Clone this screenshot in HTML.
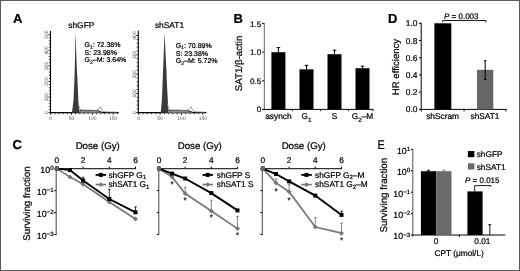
<!DOCTYPE html>
<html><head><meta charset="utf-8"><style>
html,body{margin:0;padding:0;background:#fff;width:520px;height:271px;overflow:hidden}
svg{display:block;font-family:"Liberation Sans", Arial, Helvetica, sans-serif}
text{stroke:#000;stroke-width:0.22px;text-rendering:geometricPrecision}
</style></head><body>
<svg width="520" height="271" viewBox="0 0 520 271">
<rect x="0.5" y="0.5" width="519" height="270" fill="#fff" stroke="#5a5a5a" stroke-width="1"/>
<text x="13.0" y="22.8" font-size="13" text-anchor="start" font-weight="bold" fill="#000" >A</text>
<text x="233.5" y="23.1" font-size="13" text-anchor="start" font-weight="bold" fill="#000" >B</text>
<text x="388.1" y="23.1" font-size="13" text-anchor="start" font-weight="bold" fill="#000" >D</text>
<text x="12.4" y="149.4" font-size="13" text-anchor="start" font-weight="bold" fill="#000" >C</text>
<text x="0" y="0" font-size="12.6" transform="translate(377.6,149.3) scale(0.86,1)">E</text>
<line x1="50.5" y1="31.0" x2="50.5" y2="113.3" stroke="#000" stroke-width="1.1" />
<line x1="50.0" y1="112.7" x2="118.7" y2="112.7" stroke="#000" stroke-width="1.3" />
<line x1="48.3" y1="112.7" x2="50.5" y2="112.7" stroke="#000" stroke-width="0.8" />
<text x="0" y="0" font-size="5" text-anchor="middle" fill="#555" style="stroke:none" transform="translate(47.7,112.7) rotate(-90)">0</text>
<line x1="48.9" y1="109.58" x2="50.5" y2="109.58" stroke="#000" stroke-width="0.8" />
<line x1="48.9" y1="106.46000000000001" x2="50.5" y2="106.46000000000001" stroke="#000" stroke-width="0.8" />
<line x1="48.9" y1="103.34" x2="50.5" y2="103.34" stroke="#000" stroke-width="0.8" />
<line x1="48.9" y1="100.22" x2="50.5" y2="100.22" stroke="#000" stroke-width="0.8" />
<line x1="48.3" y1="97.10000000000001" x2="50.5" y2="97.10000000000001" stroke="#000" stroke-width="0.8" />
<text x="0" y="0" font-size="5" text-anchor="middle" fill="#555" style="stroke:none" transform="translate(47.7,97.10000000000001) rotate(-90)">100</text>
<line x1="48.9" y1="93.98" x2="50.5" y2="93.98" stroke="#000" stroke-width="0.8" />
<line x1="48.9" y1="90.86" x2="50.5" y2="90.86" stroke="#000" stroke-width="0.8" />
<line x1="48.9" y1="87.74000000000001" x2="50.5" y2="87.74000000000001" stroke="#000" stroke-width="0.8" />
<line x1="48.9" y1="84.62" x2="50.5" y2="84.62" stroke="#000" stroke-width="0.8" />
<line x1="48.3" y1="81.5" x2="50.5" y2="81.5" stroke="#000" stroke-width="0.8" />
<text x="0" y="0" font-size="5" text-anchor="middle" fill="#555" style="stroke:none" transform="translate(47.7,81.5) rotate(-90)">200</text>
<line x1="48.9" y1="78.38" x2="50.5" y2="78.38" stroke="#000" stroke-width="0.8" />
<line x1="48.9" y1="75.26" x2="50.5" y2="75.26" stroke="#000" stroke-width="0.8" />
<line x1="48.9" y1="72.14" x2="50.5" y2="72.14" stroke="#000" stroke-width="0.8" />
<line x1="48.9" y1="69.02000000000001" x2="50.5" y2="69.02000000000001" stroke="#000" stroke-width="0.8" />
<line x1="48.3" y1="65.9" x2="50.5" y2="65.9" stroke="#000" stroke-width="0.8" />
<text x="0" y="0" font-size="5" text-anchor="middle" fill="#555" style="stroke:none" transform="translate(47.7,65.9) rotate(-90)">300</text>
<line x1="48.9" y1="62.78" x2="50.5" y2="62.78" stroke="#000" stroke-width="0.8" />
<line x1="48.9" y1="59.660000000000004" x2="50.5" y2="59.660000000000004" stroke="#000" stroke-width="0.8" />
<line x1="48.9" y1="56.540000000000006" x2="50.5" y2="56.540000000000006" stroke="#000" stroke-width="0.8" />
<line x1="48.9" y1="53.42" x2="50.5" y2="53.42" stroke="#000" stroke-width="0.8" />
<line x1="48.3" y1="50.300000000000004" x2="50.5" y2="50.300000000000004" stroke="#000" stroke-width="0.8" />
<text x="0" y="0" font-size="5" text-anchor="middle" fill="#555" style="stroke:none" transform="translate(47.7,50.300000000000004) rotate(-90)">400</text>
<line x1="48.9" y1="47.18000000000001" x2="50.5" y2="47.18000000000001" stroke="#000" stroke-width="0.8" />
<line x1="48.9" y1="44.06" x2="50.5" y2="44.06" stroke="#000" stroke-width="0.8" />
<line x1="48.9" y1="40.94" x2="50.5" y2="40.94" stroke="#000" stroke-width="0.8" />
<line x1="48.9" y1="37.82000000000001" x2="50.5" y2="37.82000000000001" stroke="#000" stroke-width="0.8" />
<line x1="48.3" y1="34.7" x2="50.5" y2="34.7" stroke="#000" stroke-width="0.8" />
<text x="0" y="0" font-size="5" text-anchor="middle" fill="#555" style="stroke:none" transform="translate(47.7,34.7) rotate(-90)">500</text>
<line x1="50.7" y1="112.7" x2="50.7" y2="114.9" stroke="#000" stroke-width="0.8" />
<text x="50.7" y="119.7" font-size="5" text-anchor="middle" font-weight="normal" fill="#555" style="stroke:none">0</text>
<line x1="54.86" y1="112.7" x2="54.86" y2="114.2" stroke="#000" stroke-width="0.8" />
<line x1="59.02" y1="112.7" x2="59.02" y2="114.2" stroke="#000" stroke-width="0.8" />
<line x1="63.18" y1="112.7" x2="63.18" y2="114.2" stroke="#000" stroke-width="0.8" />
<line x1="67.34" y1="112.7" x2="67.34" y2="114.2" stroke="#000" stroke-width="0.8" />
<line x1="71.5" y1="112.7" x2="71.5" y2="114.9" stroke="#000" stroke-width="0.8" />
<text x="71.5" y="119.7" font-size="5" text-anchor="middle" font-weight="normal" fill="#555" style="stroke:none">50</text>
<line x1="75.66" y1="112.7" x2="75.66" y2="114.2" stroke="#000" stroke-width="0.8" />
<line x1="79.82" y1="112.7" x2="79.82" y2="114.2" stroke="#000" stroke-width="0.8" />
<line x1="83.98" y1="112.7" x2="83.98" y2="114.2" stroke="#000" stroke-width="0.8" />
<line x1="88.14" y1="112.7" x2="88.14" y2="114.2" stroke="#000" stroke-width="0.8" />
<line x1="92.30000000000001" y1="112.7" x2="92.30000000000001" y2="114.9" stroke="#000" stroke-width="0.8" />
<text x="92.30000000000001" y="119.7" font-size="5" text-anchor="middle" font-weight="normal" fill="#555" style="stroke:none">100</text>
<line x1="96.46000000000001" y1="112.7" x2="96.46000000000001" y2="114.2" stroke="#000" stroke-width="0.8" />
<line x1="100.62" y1="112.7" x2="100.62" y2="114.2" stroke="#000" stroke-width="0.8" />
<line x1="104.78" y1="112.7" x2="104.78" y2="114.2" stroke="#000" stroke-width="0.8" />
<line x1="108.94" y1="112.7" x2="108.94" y2="114.2" stroke="#000" stroke-width="0.8" />
<line x1="113.1" y1="112.7" x2="113.1" y2="114.9" stroke="#000" stroke-width="0.8" />
<text x="113.1" y="119.7" font-size="5" text-anchor="middle" font-weight="normal" fill="#555" style="stroke:none">150</text>
<line x1="117.26" y1="112.7" x2="117.26" y2="114.2" stroke="#000" stroke-width="0.8" />
<polygon points="71.80,112.70 72.30,110.00 73.50,100.00 74.40,80.00 74.80,68.00 75.15,50.00 75.30,40.00 75.50,32.40 75.80,40.00 76.10,50.00 76.80,68.00 77.50,80.00 78.30,100.00 79.10,110.00 79.80,112.70" fill="#3a3a3a"/>
<polygon points="79.0,112.7 79.7,110.10000000000001 97.0,110.3 99.5,111.2 102.5,112.7 " fill="#8a8a8a"/>
<polyline points="79.3,110.3 97.0,110.5 101.5,111.9" fill="none" stroke="#222" stroke-width="0.9"/>
<polyline points="78.3,103.7 80.0,109.2 81.5,110.10000000000001 96.7,110.4 100.5,106.4 102.5,111.3 106.5,111.9 116.7,112.10000000000001" fill="none" stroke="#8a8a8a" stroke-width="0.8"/>
<text x="81.3" y="27.6" font-size="8.4" text-anchor="middle" font-weight="normal" fill="#000" >shGFP</text>
<text x="84.6" y="47.0" font-size="7" text-anchor="start" font-weight="normal" fill="#000" >G<tspan font-size="5" dy="1.5">1</tspan><tspan dy="-1.5">: 72.38%</tspan></text>
<text x="84.6" y="54.7" font-size="7" text-anchor="start" font-weight="normal" fill="#000" >S: 23.98%</text>
<text x="84.6" y="62.4" font-size="7" text-anchor="start" font-weight="normal" fill="#000" >G<tspan font-size="5" dy="1.5">2</tspan><tspan dy="-1.5">–M: 3.64%</tspan></text>
<line x1="138.3" y1="30.7" x2="138.3" y2="113.3" stroke="#000" stroke-width="1.1" />
<line x1="137.8" y1="112.7" x2="206.5" y2="112.7" stroke="#000" stroke-width="1.3" />
<line x1="136.10000000000002" y1="112.7" x2="138.3" y2="112.7" stroke="#000" stroke-width="0.8" />
<text x="0" y="0" font-size="5" text-anchor="middle" fill="#555" style="stroke:none" transform="translate(135.5,112.7) rotate(-90)">0</text>
<line x1="136.70000000000002" y1="108.84" x2="138.3" y2="108.84" stroke="#000" stroke-width="0.8" />
<line x1="136.70000000000002" y1="104.98" x2="138.3" y2="104.98" stroke="#000" stroke-width="0.8" />
<line x1="136.70000000000002" y1="101.12" x2="138.3" y2="101.12" stroke="#000" stroke-width="0.8" />
<line x1="136.70000000000002" y1="97.26" x2="138.3" y2="97.26" stroke="#000" stroke-width="0.8" />
<line x1="136.10000000000002" y1="93.4" x2="138.3" y2="93.4" stroke="#000" stroke-width="0.8" />
<text x="0" y="0" font-size="5" text-anchor="middle" fill="#555" style="stroke:none" transform="translate(135.5,93.4) rotate(-90)">100</text>
<line x1="136.70000000000002" y1="89.54" x2="138.3" y2="89.54" stroke="#000" stroke-width="0.8" />
<line x1="136.70000000000002" y1="85.68" x2="138.3" y2="85.68" stroke="#000" stroke-width="0.8" />
<line x1="136.70000000000002" y1="81.82" x2="138.3" y2="81.82" stroke="#000" stroke-width="0.8" />
<line x1="136.70000000000002" y1="77.96000000000001" x2="138.3" y2="77.96000000000001" stroke="#000" stroke-width="0.8" />
<line x1="136.10000000000002" y1="74.1" x2="138.3" y2="74.1" stroke="#000" stroke-width="0.8" />
<text x="0" y="0" font-size="5" text-anchor="middle" fill="#555" style="stroke:none" transform="translate(135.5,74.1) rotate(-90)">200</text>
<line x1="136.70000000000002" y1="70.24000000000001" x2="138.3" y2="70.24000000000001" stroke="#000" stroke-width="0.8" />
<line x1="136.70000000000002" y1="66.38" x2="138.3" y2="66.38" stroke="#000" stroke-width="0.8" />
<line x1="136.70000000000002" y1="62.52" x2="138.3" y2="62.52" stroke="#000" stroke-width="0.8" />
<line x1="136.70000000000002" y1="58.660000000000004" x2="138.3" y2="58.660000000000004" stroke="#000" stroke-width="0.8" />
<line x1="136.10000000000002" y1="54.800000000000004" x2="138.3" y2="54.800000000000004" stroke="#000" stroke-width="0.8" />
<text x="0" y="0" font-size="5" text-anchor="middle" fill="#555" style="stroke:none" transform="translate(135.5,54.800000000000004) rotate(-90)">300</text>
<line x1="136.70000000000002" y1="50.94" x2="138.3" y2="50.94" stroke="#000" stroke-width="0.8" />
<line x1="136.70000000000002" y1="47.08" x2="138.3" y2="47.08" stroke="#000" stroke-width="0.8" />
<line x1="136.70000000000002" y1="43.22" x2="138.3" y2="43.22" stroke="#000" stroke-width="0.8" />
<line x1="136.70000000000002" y1="39.36" x2="138.3" y2="39.36" stroke="#000" stroke-width="0.8" />
<line x1="136.10000000000002" y1="35.5" x2="138.3" y2="35.5" stroke="#000" stroke-width="0.8" />
<text x="0" y="0" font-size="5" text-anchor="middle" fill="#555" style="stroke:none" transform="translate(135.5,35.5) rotate(-90)">400</text>
<line x1="138.7" y1="112.7" x2="138.7" y2="114.9" stroke="#000" stroke-width="0.8" />
<text x="138.7" y="119.7" font-size="5" text-anchor="middle" font-weight="normal" fill="#555" style="stroke:none">0</text>
<line x1="142.98" y1="112.7" x2="142.98" y2="114.2" stroke="#000" stroke-width="0.8" />
<line x1="147.26" y1="112.7" x2="147.26" y2="114.2" stroke="#000" stroke-width="0.8" />
<line x1="151.54" y1="112.7" x2="151.54" y2="114.2" stroke="#000" stroke-width="0.8" />
<line x1="155.82" y1="112.7" x2="155.82" y2="114.2" stroke="#000" stroke-width="0.8" />
<line x1="160.1" y1="112.7" x2="160.1" y2="114.9" stroke="#000" stroke-width="0.8" />
<text x="160.1" y="119.7" font-size="5" text-anchor="middle" font-weight="normal" fill="#555" style="stroke:none">50</text>
<line x1="164.38" y1="112.7" x2="164.38" y2="114.2" stroke="#000" stroke-width="0.8" />
<line x1="168.66" y1="112.7" x2="168.66" y2="114.2" stroke="#000" stroke-width="0.8" />
<line x1="172.94" y1="112.7" x2="172.94" y2="114.2" stroke="#000" stroke-width="0.8" />
<line x1="177.21999999999997" y1="112.7" x2="177.21999999999997" y2="114.2" stroke="#000" stroke-width="0.8" />
<line x1="181.5" y1="112.7" x2="181.5" y2="114.9" stroke="#000" stroke-width="0.8" />
<text x="181.5" y="119.7" font-size="5" text-anchor="middle" font-weight="normal" fill="#555" style="stroke:none">100</text>
<line x1="185.77999999999997" y1="112.7" x2="185.77999999999997" y2="114.2" stroke="#000" stroke-width="0.8" />
<line x1="190.06" y1="112.7" x2="190.06" y2="114.2" stroke="#000" stroke-width="0.8" />
<line x1="194.33999999999997" y1="112.7" x2="194.33999999999997" y2="114.2" stroke="#000" stroke-width="0.8" />
<line x1="198.62" y1="112.7" x2="198.62" y2="114.2" stroke="#000" stroke-width="0.8" />
<line x1="202.89999999999998" y1="112.7" x2="202.89999999999998" y2="114.9" stroke="#000" stroke-width="0.8" />
<text x="202.89999999999998" y="119.7" font-size="5" text-anchor="middle" font-weight="normal" fill="#555" style="stroke:none">150</text>
<polygon points="160.60,112.70 161.00,110.00 161.90,100.00 162.50,85.00 163.10,70.00 163.70,55.00 164.15,42.00 164.50,32.00 165.00,42.00 165.60,55.00 166.40,70.00 167.00,85.00 167.80,100.00 168.30,110.00 168.70,112.70" fill="#3a3a3a"/>
<polygon points="168.0,112.7 168.7,110.10000000000001 187.5,110.3 190.0,111.2 193.0,112.7 " fill="#8a8a8a"/>
<polyline points="168.3,110.3 187.5,110.5 192.0,111.9" fill="none" stroke="#222" stroke-width="0.9"/>
<polyline points="167.3,103.7 169.0,109.2 170.5,110.10000000000001 187.2,110.4 191.0,106.5 193.0,111.3 197.0,111.9 204.5,112.10000000000001" fill="none" stroke="#8a8a8a" stroke-width="0.8"/>
<text x="169.5" y="27.6" font-size="8.4" text-anchor="middle" font-weight="normal" fill="#000" >shSAT1</text>
<text x="175.8" y="47.9" font-size="7" text-anchor="start" font-weight="normal" fill="#000" >G<tspan font-size="5" dy="1.5">1</tspan><tspan dy="-1.5">: 70.89%</tspan></text>
<text x="175.8" y="55.6" font-size="7" text-anchor="start" font-weight="normal" fill="#000" >S: 23.38%</text>
<text x="175.8" y="63.3" font-size="7" text-anchor="start" font-weight="normal" fill="#000" >G<tspan font-size="5" dy="1.5">2</tspan><tspan dy="-1.5">–M: 5.72%</tspan></text>
<line x1="264.3" y1="23.3" x2="264.3" y2="110.60000000000001" stroke="#666" stroke-width="1" />
<line x1="263.8" y1="109.4" x2="373.3" y2="109.4" stroke="#000" stroke-width="1" />
<line x1="262.1" y1="109.4" x2="264.3" y2="109.4" stroke="#000" stroke-width="1" />
<text x="261.1" y="112.30000000000001" font-size="8" text-anchor="end" font-weight="normal" fill="#000" >0</text>
<line x1="262.1" y1="80.80000000000001" x2="264.3" y2="80.80000000000001" stroke="#000" stroke-width="1" />
<text x="261.1" y="83.70000000000002" font-size="8" text-anchor="end" font-weight="normal" fill="#000" >0.5</text>
<line x1="262.1" y1="52.2" x2="264.3" y2="52.2" stroke="#000" stroke-width="1" />
<text x="261.1" y="55.1" font-size="8" text-anchor="end" font-weight="normal" fill="#000" >1.0</text>
<line x1="262.1" y1="23.599999999999994" x2="264.3" y2="23.599999999999994" stroke="#000" stroke-width="1" />
<text x="261.1" y="26.499999999999993" font-size="8" text-anchor="end" font-weight="normal" fill="#000" >1.5</text>
<line x1="292.5" y1="109.4" x2="292.5" y2="111.2" stroke="#000" stroke-width="0.9" />
<line x1="320.5" y1="109.4" x2="320.5" y2="111.2" stroke="#000" stroke-width="0.9" />
<line x1="348.5" y1="109.4" x2="348.5" y2="111.2" stroke="#000" stroke-width="0.9" />
<line x1="373.0" y1="109.4" x2="373.0" y2="111.2" stroke="#000" stroke-width="0.9" />
<rect x="271.4" y="52.2" width="14" height="57.2" fill="#000"/>
<line x1="278.4" y1="47.624" x2="278.4" y2="52.2" stroke="#000" stroke-width="1" />
<line x1="276.59999999999997" y1="47.624" x2="280.2" y2="47.624" stroke="#000" stroke-width="1" />
<text x="278.4" y="119.4" font-size="8.3" text-anchor="middle" font-weight="normal" fill="#000" >asynch</text>
<rect x="299.5" y="69.36000000000001" width="14" height="40.03999999999999" fill="#000"/>
<line x1="306.5" y1="65.35600000000001" x2="306.5" y2="69.36000000000001" stroke="#000" stroke-width="1" />
<line x1="304.7" y1="65.35600000000001" x2="308.3" y2="65.35600000000001" stroke="#000" stroke-width="1" />
<text x="306.5" y="119.4" font-size="8.3" text-anchor="middle" font-weight="normal" fill="#000" >G<tspan font-size="6.2" dy="2.4">1</tspan></text>
<rect x="327.5" y="54.202000000000005" width="14" height="55.198" fill="#000"/>
<line x1="334.5" y1="50.19800000000001" x2="334.5" y2="54.202000000000005" stroke="#000" stroke-width="1" />
<line x1="332.7" y1="50.19800000000001" x2="336.3" y2="50.19800000000001" stroke="#000" stroke-width="1" />
<text x="334.5" y="119.4" font-size="8.3" text-anchor="middle" font-weight="normal" fill="#000" >S</text>
<rect x="355.5" y="68.21600000000001" width="14" height="41.184" fill="#000"/>
<line x1="362.5" y1="66.21400000000001" x2="362.5" y2="68.21600000000001" stroke="#000" stroke-width="1" />
<line x1="360.7" y1="66.21400000000001" x2="364.3" y2="66.21400000000001" stroke="#000" stroke-width="1" />
<text x="362.5" y="119.4" font-size="8.3" text-anchor="middle" font-weight="normal" fill="#000" >G<tspan font-size="6.2" dy="2.4">2</tspan><tspan dy="-2.4">–M</tspan></text>
<text x="0" y="0" font-size="9.7" text-anchor="middle" transform="translate(242.3,63.4) rotate(-90)">SAT1/β-actin</text>
<line x1="421.2" y1="22.8" x2="421.2" y2="111.7" stroke="#000" stroke-width="1" />
<line x1="420.7" y1="109.4" x2="506.5" y2="109.4" stroke="#000" stroke-width="1" />
<line x1="506.0" y1="109.4" x2="506.0" y2="111.4" stroke="#000" stroke-width="1" />
<line x1="419.0" y1="109.4" x2="421.2" y2="109.4" stroke="#000" stroke-width="1" />
<text x="417.4" y="112.4" font-size="8.4" text-anchor="end" font-weight="normal" fill="#000" >0.0</text>
<line x1="419.0" y1="92.18" x2="421.2" y2="92.18" stroke="#000" stroke-width="1" />
<text x="417.4" y="95.18" font-size="8.4" text-anchor="end" font-weight="normal" fill="#000" >0.2</text>
<line x1="419.0" y1="74.96000000000001" x2="421.2" y2="74.96000000000001" stroke="#000" stroke-width="1" />
<text x="417.4" y="77.96000000000001" font-size="8.4" text-anchor="end" font-weight="normal" fill="#000" >0.4</text>
<line x1="419.0" y1="57.74" x2="421.2" y2="57.74" stroke="#000" stroke-width="1" />
<text x="417.4" y="60.74" font-size="8.4" text-anchor="end" font-weight="normal" fill="#000" >0.6</text>
<line x1="419.0" y1="40.52000000000001" x2="421.2" y2="40.52000000000001" stroke="#000" stroke-width="1" />
<text x="417.4" y="43.52000000000001" font-size="8.4" text-anchor="end" font-weight="normal" fill="#000" >0.8</text>
<line x1="419.0" y1="23.30000000000001" x2="421.2" y2="23.30000000000001" stroke="#000" stroke-width="1" />
<text x="417.4" y="26.30000000000001" font-size="8.4" text-anchor="end" font-weight="normal" fill="#000" >1.0</text>
<line x1="464.1" y1="109.4" x2="464.1" y2="111.4" stroke="#000" stroke-width="1" />
<rect x="434.4" y="23.3" width="16.9" height="86.10000000000001" fill="#000"/>
<rect x="477.0" y="69.79400000000001" width="16.3" height="39.605999999999995" fill="#666"/>
<line x1="485.2" y1="60.7" x2="485.2" y2="79.5" stroke="#000" stroke-width="1" />
<line x1="484.0" y1="60.7" x2="486.4" y2="60.7" stroke="#000" stroke-width="1" />
<line x1="484.0" y1="79.5" x2="486.4" y2="79.5" stroke="#000" stroke-width="1" />
<text x="442.6" y="119.2" font-size="8.3" text-anchor="middle" font-weight="normal" fill="#000" >shScram</text>
<text x="485.0" y="119.2" font-size="8.3" text-anchor="middle" font-weight="normal" fill="#000" >shSAT1</text>
<text x="444.0" y="18.9" font-size="8.0" text-anchor="start" font-weight="normal" fill="#000" ><tspan font-style="italic">P</tspan> = 0.003</text>
<polyline points="442.8,22.4 442.8,20.5 485.9,20.5 485.9,22.4" fill="none" stroke="#000" stroke-width="0.9"/>
<text x="0" y="0" font-size="9.6" text-anchor="middle" transform="translate(399.1,67) rotate(-90)">HR efficiency</text>
<text x="0" y="0" font-size="9.7" text-anchor="middle" transform="translate(30.3,203.5) rotate(-90)">Surviving fraction</text>
<line x1="56.2" y1="168.1" x2="56.2" y2="235.1" stroke="#555" stroke-width="1.1" />
<line x1="56.2" y1="168.6" x2="136.0" y2="168.6" stroke="#333" stroke-width="1.1" />
<line x1="56.9" y1="168.6" x2="56.9" y2="166.6" stroke="#000" stroke-width="1" />
<text x="56.9" y="163.4" font-size="8.3" text-anchor="middle" font-weight="normal" fill="#000" >0</text>
<line x1="83.1" y1="168.6" x2="83.1" y2="166.6" stroke="#000" stroke-width="1" />
<text x="83.1" y="163.4" font-size="8.3" text-anchor="middle" font-weight="normal" fill="#000" >2</text>
<line x1="109.3" y1="168.6" x2="109.3" y2="166.6" stroke="#000" stroke-width="1" />
<text x="109.3" y="163.4" font-size="8.3" text-anchor="middle" font-weight="normal" fill="#000" >4</text>
<line x1="135.5" y1="168.6" x2="135.5" y2="166.6" stroke="#000" stroke-width="1" />
<text x="135.5" y="163.4" font-size="8.3" text-anchor="middle" font-weight="normal" fill="#000" >6</text>
<line x1="54.2" y1="168.6" x2="56.2" y2="168.6" stroke="#000" stroke-width="1" />
<text x="53.6" y="173.0" font-size="8.8" text-anchor="end">10<tspan font-size="6.2" dy="-2.9">0</tspan></text>
<line x1="54.2" y1="190.6" x2="56.2" y2="190.6" stroke="#000" stroke-width="1" />
<text x="53.6" y="195.0" font-size="8.8" text-anchor="end">10<tspan font-size="6.2" dy="-2.9">−1</tspan></text>
<line x1="54.2" y1="212.6" x2="56.2" y2="212.6" stroke="#000" stroke-width="1" />
<text x="53.6" y="217.0" font-size="8.8" text-anchor="end">10<tspan font-size="6.2" dy="-2.9">−2</tspan></text>
<line x1="54.2" y1="234.6" x2="56.2" y2="234.6" stroke="#000" stroke-width="1" />
<text x="53.6" y="239.0" font-size="8.8" text-anchor="end">10<tspan font-size="6.2" dy="-2.9">−3</tspan></text>
<text x="97.69999999999999" y="149.3" font-size="9.7" text-anchor="middle" font-weight="normal" fill="#000" >Dose (Gy)</text>
<line x1="83.1" y1="177.3" x2="83.1" y2="180.6" stroke="#000" stroke-width="0.8" />
<line x1="81.8" y1="177.3" x2="84.39999999999999" y2="177.3" stroke="#000" stroke-width="0.8" />
<line x1="109.3" y1="189.4" x2="109.3" y2="199.0" stroke="#000" stroke-width="0.8" />
<line x1="108.0" y1="189.4" x2="110.6" y2="189.4" stroke="#000" stroke-width="0.8" />
<line x1="135.5" y1="206.9" x2="135.5" y2="212.3" stroke="#000" stroke-width="0.8" />
<line x1="134.2" y1="206.9" x2="136.8" y2="206.9" stroke="#000" stroke-width="0.8" />
<polyline points="56.90,168.60 70.00,177.10 83.10,184.20 109.30,202.00 135.50,219.00" fill="none" stroke="#777" stroke-width="1.7"/>
<polyline points="56.90,168.60 70.00,170.10 83.10,180.60 109.30,199.00 135.50,212.30" fill="none" stroke="#000" stroke-width="1.9"/>
<polygon points="56.9,166.1 59.4,168.6 56.9,171.1 54.4,168.6" fill="#777"/>
<polygon points="70.0,174.6 72.5,177.1 70.0,179.6 67.5,177.1" fill="#777"/>
<polygon points="83.1,181.7 85.6,184.2 83.1,186.7 80.6,184.2" fill="#777"/>
<polygon points="109.3,199.5 111.8,202.0 109.3,204.5 106.8,202.0" fill="#777"/>
<polygon points="135.5,216.5 138.0,219.0 135.5,221.5 133.0,219.0" fill="#777"/>
<rect x="54.9" y="166.6" width="4" height="4" fill="#000"/>
<rect x="68.0" y="168.1" width="4" height="4" fill="#000"/>
<rect x="81.1" y="178.6" width="4" height="4" fill="#000"/>
<rect x="107.3" y="197.0" width="4" height="4" fill="#000"/>
<rect x="133.5" y="210.3" width="4" height="4" fill="#000"/>
<rect x="54.9" y="166.6" width="4" height="4" fill="#666"/>
<line x1="95.6" y1="174.9" x2="106.1" y2="174.9" stroke="#000" stroke-width="1.9" />
<rect x="98.8" y="172.9" width="4" height="4" fill="#000"/>
<line x1="95.6" y1="184.6" x2="106.1" y2="184.6" stroke="#777" stroke-width="1.7" />
<polygon points="100.85,182.2 103.25,184.6 100.85,187.0 98.44999999999999,184.6" fill="#777"/>
<text x="108.4" y="177.5" font-size="8.3" text-anchor="start" font-weight="normal" fill="#000" >shGFP G<tspan font-size="6" dy="1.9">1</tspan></text>
<text x="108.4" y="186.9" font-size="8.3" text-anchor="start" font-weight="normal" fill="#000" >shSAT1 G<tspan font-size="6" dy="1.9">1</tspan></text>
<line x1="158.8" y1="168.1" x2="158.8" y2="235.1" stroke="#555" stroke-width="1.1" />
<line x1="158.8" y1="168.6" x2="237.98000000000002" y2="168.6" stroke="#333" stroke-width="1.1" />
<line x1="159.0" y1="168.6" x2="159.0" y2="166.6" stroke="#000" stroke-width="1" />
<text x="159.0" y="163.4" font-size="8.3" text-anchor="middle" font-weight="normal" fill="#000" >0</text>
<line x1="185.16" y1="168.6" x2="185.16" y2="166.6" stroke="#000" stroke-width="1" />
<text x="185.16" y="163.4" font-size="8.3" text-anchor="middle" font-weight="normal" fill="#000" >2</text>
<line x1="211.32" y1="168.6" x2="211.32" y2="166.6" stroke="#000" stroke-width="1" />
<text x="211.32" y="163.4" font-size="8.3" text-anchor="middle" font-weight="normal" fill="#000" >4</text>
<line x1="237.48000000000002" y1="168.6" x2="237.48000000000002" y2="166.6" stroke="#000" stroke-width="1" />
<text x="237.48000000000002" y="163.4" font-size="8.3" text-anchor="middle" font-weight="normal" fill="#000" >6</text>
<line x1="156.8" y1="168.6" x2="158.8" y2="168.6" stroke="#000" stroke-width="1" />
<line x1="156.8" y1="190.6" x2="158.8" y2="190.6" stroke="#000" stroke-width="1" />
<line x1="156.8" y1="212.6" x2="158.8" y2="212.6" stroke="#000" stroke-width="1" />
<line x1="156.8" y1="234.6" x2="158.8" y2="234.6" stroke="#000" stroke-width="1" />
<text x="199.74" y="149.3" font-size="9.7" text-anchor="middle" font-weight="normal" fill="#000" >Dose (Gy)</text>
<line x1="185.16" y1="187.3" x2="185.16" y2="193.5" stroke="#666" stroke-width="0.8" />
<line x1="183.85999999999999" y1="187.3" x2="186.46" y2="187.3" stroke="#666" stroke-width="0.8" />
<line x1="211.32" y1="200.2" x2="211.32" y2="211.0" stroke="#666" stroke-width="0.8" />
<line x1="210.01999999999998" y1="200.2" x2="212.62" y2="200.2" stroke="#666" stroke-width="0.8" />
<line x1="237.48000000000002" y1="216.4" x2="237.48000000000002" y2="228.6" stroke="#666" stroke-width="0.8" />
<line x1="236.18" y1="216.4" x2="238.78000000000003" y2="216.4" stroke="#666" stroke-width="0.8" />
<polyline points="159.00,168.60 172.08,177.00 185.16,193.50 211.32,211.00 237.48,228.60" fill="none" stroke="#777" stroke-width="1.7"/>
<polyline points="159.00,168.60 172.08,173.60 185.16,178.50 211.32,193.10 237.48,210.40" fill="none" stroke="#000" stroke-width="1.9"/>
<polygon points="159.0,166.1 161.5,168.6 159.0,171.1 156.5,168.6" fill="#777"/>
<polygon points="172.08,174.5 174.58,177.0 172.08,179.5 169.58,177.0" fill="#777"/>
<polygon points="185.16,191.0 187.66,193.5 185.16,196.0 182.66,193.5" fill="#777"/>
<polygon points="211.32,208.5 213.82,211.0 211.32,213.5 208.82,211.0" fill="#777"/>
<polygon points="237.48000000000002,226.1 239.98000000000002,228.6 237.48000000000002,231.1 234.98000000000002,228.6" fill="#777"/>
<rect x="157.0" y="166.6" width="4" height="4" fill="#000"/>
<rect x="170.08" y="171.6" width="4" height="4" fill="#000"/>
<rect x="183.16" y="176.5" width="4" height="4" fill="#000"/>
<rect x="209.32" y="191.1" width="4" height="4" fill="#000"/>
<rect x="235.48000000000002" y="208.4" width="4" height="4" fill="#000"/>
<rect x="157.0" y="166.6" width="4" height="4" fill="#666"/>
<text x="172.08" y="187.3" font-size="8" text-anchor="middle" font-weight="normal" fill="#333" style="stroke:#333;stroke-width:0.3px">*</text>
<text x="185.16" y="203.1" font-size="8" text-anchor="middle" font-weight="normal" fill="#333" style="stroke:#333;stroke-width:0.3px">*</text>
<text x="211.32" y="220.4" font-size="8" text-anchor="middle" font-weight="normal" fill="#333" style="stroke:#333;stroke-width:0.3px">*</text>
<text x="237.48000000000002" y="238.1" font-size="8" text-anchor="middle" font-weight="normal" fill="#333" style="stroke:#333;stroke-width:0.3px">*</text>
<line x1="202.5" y1="174.9" x2="213.0" y2="174.9" stroke="#000" stroke-width="1.9" />
<rect x="205.7" y="172.9" width="4" height="4" fill="#000"/>
<line x1="202.5" y1="184.6" x2="213.0" y2="184.6" stroke="#777" stroke-width="1.7" />
<polygon points="207.75,182.2 210.15,184.6 207.75,187.0 205.35,184.6" fill="#777"/>
<text x="216.8" y="177.5" font-size="8.3" text-anchor="start" font-weight="normal" fill="#000" >shGFP S</text>
<text x="216.8" y="186.9" font-size="8.3" text-anchor="start" font-weight="normal" fill="#000" >shSAT1 S</text>
<line x1="262.3" y1="168.1" x2="262.3" y2="235.1" stroke="#555" stroke-width="1.1" />
<line x1="262.3" y1="168.6" x2="342.0" y2="168.6" stroke="#333" stroke-width="1.1" />
<line x1="262.9" y1="168.6" x2="262.9" y2="166.6" stroke="#000" stroke-width="1" />
<text x="262.9" y="163.4" font-size="8.3" text-anchor="middle" font-weight="normal" fill="#000" >0</text>
<line x1="289.09999999999997" y1="168.6" x2="289.09999999999997" y2="166.6" stroke="#000" stroke-width="1" />
<text x="289.09999999999997" y="163.4" font-size="8.3" text-anchor="middle" font-weight="normal" fill="#000" >2</text>
<line x1="315.29999999999995" y1="168.6" x2="315.29999999999995" y2="166.6" stroke="#000" stroke-width="1" />
<text x="315.29999999999995" y="163.4" font-size="8.3" text-anchor="middle" font-weight="normal" fill="#000" >4</text>
<line x1="341.5" y1="168.6" x2="341.5" y2="166.6" stroke="#000" stroke-width="1" />
<text x="341.5" y="163.4" font-size="8.3" text-anchor="middle" font-weight="normal" fill="#000" >6</text>
<line x1="260.3" y1="168.6" x2="262.3" y2="168.6" stroke="#000" stroke-width="1" />
<line x1="260.3" y1="190.6" x2="262.3" y2="190.6" stroke="#000" stroke-width="1" />
<line x1="260.3" y1="212.6" x2="262.3" y2="212.6" stroke="#000" stroke-width="1" />
<line x1="260.3" y1="234.6" x2="262.3" y2="234.6" stroke="#000" stroke-width="1" />
<text x="303.7" y="149.3" font-size="9.7" text-anchor="middle" font-weight="normal" fill="#000" >Dose (Gy)</text>
<line x1="341.5" y1="211.1" x2="341.5" y2="214.9" stroke="#000" stroke-width="0.8" />
<line x1="340.2" y1="211.1" x2="342.8" y2="211.1" stroke="#000" stroke-width="0.8" />
<line x1="276.0" y1="178.8" x2="276.0" y2="182.9" stroke="#666" stroke-width="0.8" />
<line x1="274.7" y1="178.8" x2="277.3" y2="178.8" stroke="#666" stroke-width="0.8" />
<line x1="289.09999999999997" y1="184.7" x2="289.09999999999997" y2="191.7" stroke="#666" stroke-width="0.8" />
<line x1="287.79999999999995" y1="184.7" x2="290.4" y2="184.7" stroke="#666" stroke-width="0.8" />
<line x1="315.29999999999995" y1="217.7" x2="315.29999999999995" y2="227.0" stroke="#666" stroke-width="0.8" />
<line x1="313.99999999999994" y1="217.7" x2="316.59999999999997" y2="217.7" stroke="#666" stroke-width="0.8" />
<line x1="341.5" y1="223.0" x2="341.5" y2="233.2" stroke="#666" stroke-width="0.8" />
<line x1="340.2" y1="223.0" x2="342.8" y2="223.0" stroke="#666" stroke-width="0.8" />
<polyline points="262.90,168.60 276.00,182.90 289.10,191.70 315.30,227.00 341.50,233.20" fill="none" stroke="#777" stroke-width="1.7"/>
<polyline points="262.90,168.60 276.00,174.00 289.10,181.40 315.30,195.60 341.50,214.90" fill="none" stroke="#000" stroke-width="1.9"/>
<polygon points="262.9,166.1 265.4,168.6 262.9,171.1 260.4,168.6" fill="#777"/>
<polygon points="276.0,180.4 278.5,182.9 276.0,185.4 273.5,182.9" fill="#777"/>
<polygon points="289.09999999999997,189.2 291.59999999999997,191.7 289.09999999999997,194.2 286.59999999999997,191.7" fill="#777"/>
<polygon points="315.29999999999995,224.5 317.79999999999995,227.0 315.29999999999995,229.5 312.79999999999995,227.0" fill="#777"/>
<polygon points="341.5,230.7 344.0,233.2 341.5,235.7 339.0,233.2" fill="#777"/>
<rect x="260.9" y="166.6" width="4" height="4" fill="#000"/>
<rect x="274.0" y="172.0" width="4" height="4" fill="#000"/>
<rect x="287.09999999999997" y="179.4" width="4" height="4" fill="#000"/>
<rect x="313.29999999999995" y="193.6" width="4" height="4" fill="#000"/>
<rect x="339.5" y="212.9" width="4" height="4" fill="#000"/>
<rect x="260.9" y="166.6" width="4" height="4" fill="#666"/>
<text x="276.0" y="193.70000000000002" font-size="8" text-anchor="middle" font-weight="normal" fill="#333" style="stroke:#333;stroke-width:0.3px">*</text>
<text x="289.09999999999997" y="202.5" font-size="8" text-anchor="middle" font-weight="normal" fill="#333" style="stroke:#333;stroke-width:0.3px">*</text>
<text x="341.5" y="242.6" font-size="8" text-anchor="middle" font-weight="normal" fill="#333" style="stroke:#333;stroke-width:0.3px">*</text>
<line x1="301.3" y1="174.9" x2="311.8" y2="174.9" stroke="#000" stroke-width="1.9" />
<rect x="304.5" y="172.9" width="4" height="4" fill="#000"/>
<line x1="301.3" y1="184.6" x2="311.8" y2="184.6" stroke="#777" stroke-width="1.7" />
<polygon points="306.55,182.2 308.95,184.6 306.55,187.0 304.15000000000003,184.6" fill="#777"/>
<text x="315.1" y="177.5" font-size="8.3" text-anchor="start" font-weight="normal" fill="#000" >shGFP G<tspan font-size="6" dy="1.9">2</tspan><tspan dy="-1.9">–M</tspan></text>
<text x="315.1" y="186.9" font-size="8.3" text-anchor="start" font-weight="normal" fill="#000" >shSAT1 G<tspan font-size="6" dy="1.9">2</tspan><tspan dy="-1.9">–M</tspan></text>
<line x1="412.8" y1="148.9" x2="412.8" y2="237.0" stroke="#555" stroke-width="1" />
<line x1="412.8" y1="235.0" x2="505.3" y2="235.0" stroke="#000" stroke-width="1" />
<line x1="459.3" y1="235.0" x2="459.3" y2="237.0" stroke="#000" stroke-width="1" />
<line x1="410.8" y1="149.4" x2="412.8" y2="149.4" stroke="#000" stroke-width="1" />
<text x="410.2" y="153.8" font-size="8.8" text-anchor="end">10<tspan font-size="6.2" dy="-2.9">1</tspan></text>
<line x1="410.8" y1="170.8" x2="412.8" y2="170.8" stroke="#000" stroke-width="1" />
<text x="410.2" y="175.20000000000002" font-size="8.8" text-anchor="end">10<tspan font-size="6.2" dy="-2.9">0</tspan></text>
<line x1="410.8" y1="192.2" x2="412.8" y2="192.2" stroke="#000" stroke-width="1" />
<text x="410.2" y="196.6" font-size="8.8" text-anchor="end">10<tspan font-size="6.2" dy="-2.9">−1</tspan></text>
<line x1="410.8" y1="213.6" x2="412.8" y2="213.6" stroke="#000" stroke-width="1" />
<text x="410.2" y="218.0" font-size="8.8" text-anchor="end">10<tspan font-size="6.2" dy="-2.9">−2</tspan></text>
<line x1="410.8" y1="235.0" x2="412.8" y2="235.0" stroke="#000" stroke-width="1" />
<text x="410.2" y="239.4" font-size="8.8" text-anchor="end">10<tspan font-size="6.2" dy="-2.9">−3</tspan></text>
<rect x="420.9" y="171.2" width="15.3" height="63.80000000000001" fill="#000"/>
<rect x="436.2" y="171.2" width="15.3" height="63.80000000000001" fill="#6a6a6a"/>
<line x1="428.5" y1="170.2" x2="428.5" y2="171.2" stroke="#000" stroke-width="1" />
<line x1="427" y1="170.2" x2="430" y2="170.2" stroke="#000" stroke-width="0.8" />
<line x1="443.8" y1="170.2" x2="443.8" y2="171.2" stroke="#6a6a6a" stroke-width="1" />
<line x1="442.3" y1="170.2" x2="445.3" y2="170.2" stroke="#6a6a6a" stroke-width="0.8" />
<rect x="467.4" y="191.4" width="15.2" height="43.599999999999994" fill="#000"/>
<line x1="474.7" y1="188.8" x2="474.7" y2="191.4" stroke="#000" stroke-width="0.9" />
<line x1="489.8" y1="224.7" x2="489.8" y2="235.0" stroke="#000" stroke-width="0.9" />
<line x1="488.3" y1="224.7" x2="491.3" y2="224.7" stroke="#000" stroke-width="0.9" />
<polyline points="474.7,188.8 474.7,185.6 490.9,185.6 490.9,186.8" fill="none" stroke="#000" stroke-width="0.9"/>
<text x="465" y="183.0" font-size="8" text-anchor="start" font-weight="normal" fill="#000" ><tspan font-style="italic">P</tspan> = 0.015</text>
<rect x="467.9" y="151" width="6.5" height="6.2" fill="#000"/>
<rect x="467.9" y="163.3" width="6.5" height="6.2" fill="#6a6a6a"/>
<text x="476.7" y="157.2" font-size="8.3" text-anchor="start" font-weight="normal" fill="#000" >shGFP</text>
<text x="476.7" y="169.5" font-size="8.3" text-anchor="start" font-weight="normal" fill="#000" >shSAT1</text>
<text x="436" y="244.1" font-size="8.3" text-anchor="middle" font-weight="normal" fill="#000" >0</text>
<text x="482.4" y="244.1" font-size="8.3" text-anchor="middle" font-weight="normal" fill="#000" >0.01</text>
<text x="459.1" y="256.2" font-size="8.3" text-anchor="middle" font-weight="normal" fill="#000" >CPT (μmol/L)</text>
<text x="0" y="0" font-size="9.75" text-anchor="middle" transform="translate(387.2,195.2) rotate(-90)">Surviving fraction</text>
</svg>
</body></html>
